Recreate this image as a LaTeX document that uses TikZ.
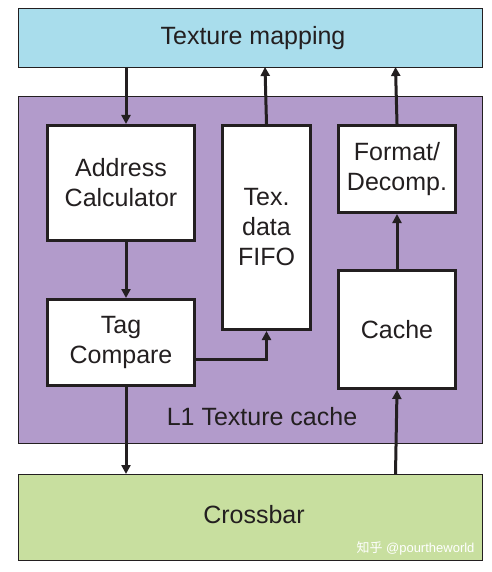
\documentclass[tikz,border=0pt]{standalone}
\usepackage{fontspec}
\setmainfont{Liberation Sans}
\newfontfamily\cjk{Noto Sans CJK SC}
\usetikzlibrary{arrows.meta}
\definecolor{tmblue}{HTML}{A9DDEC}
\definecolor{lonepurple}{HTML}{B29BCB}
\definecolor{xbgreen}{HTML}{C8DF9F}
\definecolor{edge}{HTML}{231F20}
\begin{document}
\begin{tikzpicture}[x=1pt,y=-1pt,
  band/.style={draw=edge,line width=1.3pt,minimum height=#1,minimum width=464pt,inner sep=0pt,anchor=north west},
  unit/.style={draw=edge,fill=white,line width=3pt,inner sep=0pt,anchor=north west,align=center,text=edge,font=\fontsize{25}{30}\selectfont},
  lbl/.style={text=edge,font=\fontsize{25}{30}\selectfont},
  link/.style={draw=edge,line width=3pt,-{Triangle[length=9pt,width=9pt]}}]
\useasboundingbox (0,0) rectangle (491,572);
\fill[white] (0,0) rectangle (491,572);
\node[band=59pt,fill=tmblue] (tm) at (18,8) {};
\node[lbl] (tmlbl) at (253,38) {Texture mapping};
\node[band=347pt,fill=lonepurple] (l1) at (18,96) {};
\node[lbl] (l1lbl) at (262,417) {L1 Texture cache};
\node[band=86pt,fill=xbgreen] (xb) at (18,474) {};
\node[lbl] (xblbl) at (254,515) {Crossbar};
\node[text=white,anchor=east] (wm) at (478,548) {\fontsize{13}{15}\selectfont{\cjk 知乎} @pourtheworld};
\node[unit,minimum width=147pt,minimum height=115pt] (addr) at (46,124) {Address\\Calculator};
\node[unit,minimum width=147pt,minimum height=86pt] (tag) at (46,298) {Tag\\Compare};
\node[unit,minimum width=88pt,minimum height=204pt] (fifo) at (221,124) {Tex.\\data\\FIFO};
\node[unit,minimum width=117pt,minimum height=87pt] (fmt) at (337,124) {Format/\\Decomp.};
\node[unit,minimum width=117pt,minimum height=118pt] (cache) at (337,269) {Cache};
\coordinate (tmA) at (126,67);
\coordinate (tmF) at (265,67);
\coordinate (tmD) at (395.5,67);
\coordinate (xbA) at (126,474);
\coordinate (xbC) at (395.5,474);
\draw[link] (tmA) -- (tmA |- addr.north);
\draw[link] (fifo.north) -- (tmF);
\draw[link] (fmt.north) -- (tmD);
\draw[link] (tmA |- addr.south) -- (tmA |- tag.north);
\draw[link] (tmA |- tag.south) -- (xbA);
\draw[link] (xbC) -- (cache.south);
\draw[link] (cache.north) -- (fmt.south);
\draw[link] (tag.east |- 0,359) -| (fifo.south);
\end{tikzpicture}
\end{document}
